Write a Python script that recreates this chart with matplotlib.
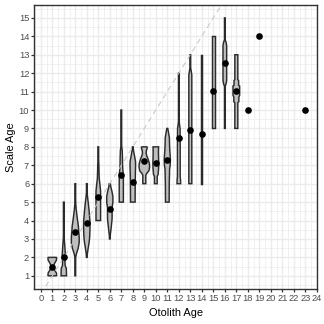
import matplotlib
matplotlib.use("Agg")
import matplotlib.pyplot as plt
import numpy as np
from matplotlib.patches import Polygon

plt.rcParams["font.family"] = ["Liberation Sans", "DejaVu Sans"]

# otolith age groups and the mean scale age in each
otolith_age = [1, 2, 3, 4, 5, 6, 7, 8, 9, 10, 11, 12, 13, 14, 15, 16, 17, 18, 19, 23]
mean_scale_age = [1.46, 2.0, 3.36, 3.86, 5.26, 4.62, 6.45, 6.07, 7.22, 7.12,
                  7.27, 8.47, 8.92, 8.7, 11.02, 12.56, 11.02, 10.0, 14.0, 10.0]

# violin outlines: scale-age levels and half widths
v1_y = [1.0, 1.15, 1.3, 1.45, 1.55, 1.7, 1.85, 2.0]
v1_w = [0.38, 0.36, 0.22, 0.11, 0.11, 0.22, 0.36, 0.38]
v2_y = [1.0, 1.4, 1.55, 1.75, 2.0, 2.3, 2.7, 3.0, 3.3, 4.0, 5.0]
v2_w = [0.24, 0.22, 0.12, 0.1, 0.15, 0.12, 0.08, 0.04, 0.03, 0.03, 0.03]
v3_y = [1.0, 2.0, 2.2, 2.5, 2.8, 3.1, 3.4, 3.7, 4.0, 4.3, 4.6, 4.9, 5.2, 6.0]
v3_w = [0.03, 0.03, 0.1, 0.25, 0.34, 0.34, 0.3, 0.27, 0.2, 0.14, 0.08, 0.04, 0.03, 0.03]
v4_y = [2.0, 2.2, 2.5, 2.8, 3.1, 3.4, 3.7, 4.0, 4.3, 4.6, 4.9, 5.2, 5.5, 6.0]
v4_w = [0.03, 0.05, 0.12, 0.2, 0.25, 0.27, 0.28, 0.27, 0.23, 0.19, 0.14, 0.08, 0.03, 0.03]
v5_y = [4.0, 5.6, 5.9, 6.3, 6.7, 7.0, 7.3, 8.0]
v5_w = [0.2, 0.2, 0.15, 0.08, 0.06, 0.05, 0.03, 0.03]
v6_y = [3.0, 3.2, 3.5, 3.8, 4.1, 4.4, 4.7, 5.0, 5.3, 5.6, 5.85, 6.0]
v6_w = [0.03, 0.04, 0.1, 0.15, 0.2, 0.2, 0.2, 0.27, 0.27, 0.18, 0.08, 0.05]
v7_y = [5.0, 6.5, 6.7, 7.0, 7.4, 7.8, 8.0, 8.2, 10.0]
v7_w = [0.18, 0.18, 0.14, 0.11, 0.1, 0.08, 0.04, 0.03, 0.03]
v8_y = [5.0, 6.0, 6.5, 6.9, 7.2, 7.5, 7.8, 8.0]
v8_w = [0.2, 0.21, 0.22, 0.24, 0.24, 0.15, 0.06, 0.03]
v9_y = [6.0, 6.45, 6.55, 6.7, 6.9, 7.1, 7.3, 7.5, 7.65, 7.8, 7.9, 8.0]
v9_w = [0.13, 0.13, 0.2, 0.4, 0.46, 0.44, 0.35, 0.22, 0.16, 0.18, 0.24, 0.25]
v10_y = [6.0, 6.4, 6.5, 6.8, 7.1, 7.4, 7.7, 8.0]
v10_w = [0.12, 0.12, 0.2, 0.24, 0.26, 0.24, 0.23, 0.24]
v11_y = [5.0, 6.0, 6.8, 7.0, 7.3, 7.6, 8.0, 8.5, 8.8, 9.0]
v11_w = [0.16, 0.17, 0.2, 0.25, 0.27, 0.24, 0.2, 0.18, 0.1, 0.04]
v12_y = [6.0, 6.2, 6.4, 7.0, 8.0, 9.0, 9.2, 9.4, 12.0]
v12_w = [0.16, 0.15, 0.12, 0.12, 0.12, 0.11, 0.06, 0.03, 0.03]
v13_y = [6.0, 11.9, 12.1, 12.3, 13.0]
v13_w = [0.13, 0.13, 0.08, 0.03, 0.03]
v14_y = [6.0, 13.0]
v14_w = [0.03, 0.03]
v15_y = [9.0, 14.0]
v15_w = [0.13, 0.13]
v16_y = [9.0, 11.3, 11.4, 11.6, 13.5, 13.7, 13.8, 15.0]
v16_w = [0.03, 0.03, 0.1, 0.16, 0.16, 0.1, 0.03, 0.03]
v17_y = [9.0, 10.4, 10.45, 10.7, 10.8, 11.3, 11.35, 11.6, 11.65, 13.0]
v17_w = [0.13, 0.13, 0.22, 0.22, 0.29, 0.29, 0.2, 0.2, 0.13, 0.13]

violins = [(1, v1_y, v1_w), (2, v2_y, v2_w), (3, v3_y, v3_w), (4, v4_y, v4_w),
           (5, v5_y, v5_w), (6, v6_y, v6_w), (7, v7_y, v7_w), (8, v8_y, v8_w),
           (9, v9_y, v9_w), (10, v10_y, v10_w), (11, v11_y, v11_w),
           (12, v12_y, v12_w), (13, v13_y, v13_w), (14, v14_y, v14_w),
           (15, v15_y, v15_w), (16, v16_y, v16_w), (17, v17_y, v17_w)]

x_ticks = list(range(0, 25))
y_ticks = list(range(1, 16))

W = 324
fig = plt.figure(figsize=(3.24, 3.24), dpi=100)
ax = fig.add_axes([34 / W, 1 - 288.7 / W, (317.3 - 34) / W, (288.7 - 5) / W])
ax.set_xlim(-0.59, 24.04)
ax.set_ylim(0.3, 15.7)

# grid like theme_bw
for v in x_ticks:
    ax.axvline(v, color="#EBEBEB", lw=1.0, zorder=0)
for v in np.arange(-0.5, 24.6, 1.0):
    ax.axvline(v, color="#EBEBEB", lw=0.5, zorder=0)
for v in y_ticks:
    ax.axhline(v, color="#EBEBEB", lw=1.0, zorder=0)
for v in np.arange(0.5, 15.6, 1.0):
    ax.axhline(v, color="#EBEBEB", lw=0.5, zorder=0)

for xc, ys, ws in violins:
    ys = np.array(ys)
    ws = np.array(ws)
    pts = np.concatenate([np.column_stack([xc - ws, ys]),
                          np.column_stack([xc + ws, ys])[::-1]])
    ax.add_patch(Polygon(pts, closed=True, facecolor="#BEBEBE",
                         edgecolor="#2B2B2B", lw=1.05, zorder=2))

ax.plot([0, 16], [0, 16], color="#C4C4C4", lw=0.7,
        linestyle=(0, (5.5, 4)), zorder=3)

ax.scatter(otolith_age, mean_scale_age, s=23, color="black", zorder=4,
           linewidths=0)

ax.set_xticks(x_ticks)
ax.set_yticks(y_ticks)
ax.tick_params(axis="both", length=2.0, width=0.9, color="#333333",
               labelsize=6.7, labelcolor="#4D4D4D", pad=1.5)
for s in ax.spines.values():
    s.set_color("#333333")
    s.set_linewidth(1.0)

fig.text(175.7 / W, 1 - 313.3 / W, "Otolith Age", ha="center", va="center",
         fontsize=7.9, color="black")
fig.text(11.5 / W, 1 - 147 / W, "Scale Age", ha="center", va="center",
         rotation=90, fontsize=7.9, color="black")

fig.savefig("out.png", dpi=100, facecolor="white")
